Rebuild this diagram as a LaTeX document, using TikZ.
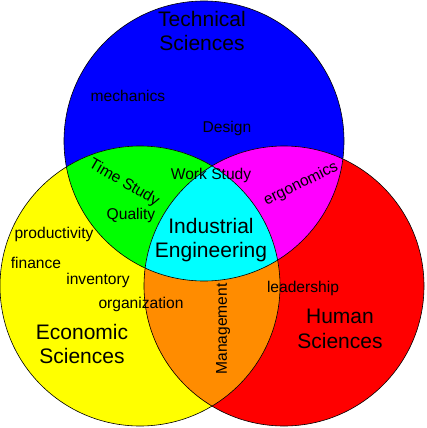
\documentclass[tikz,border=0pt]{standalone}
\usepackage{fontspec}
\setmainfont{Liberation Sans}
\usepackage{tikz}
\tikzset{
  field/.style     = {draw=black, line width=0.6pt},
  sciencelbl/.style = {font=\fontsize{21}{24.5}\selectfont, align=center},
  topiclbl/.style  = {font=\fontsize{15.6}{18}\selectfont},
}
\definecolor{techblue}{RGB}{0,0,255}
\definecolor{econyellow}{RGB}{255,255,0}
\definecolor{humanred}{RGB}{255,0,0}
\definecolor{workgreen}{RGB}{0,255,0}
\definecolor{ergomagenta}{RGB}{255,0,255}
\definecolor{mgmtorange}{RGB}{255,140,0}
\definecolor{iecyan}{RGB}{0,255,255}

\begin{document}
\begin{tikzpicture}[x=1pt, y=-1pt]
  \useasboundingbox (0,0) rectangle (426,428);
  \coordinate (tech)  at (204,141);
  \coordinate (econ)  at (140,286);
  \coordinate (human) at (284,286);
  \def\rr{140pt}

  % the three sciences
  \fill[techblue]   (tech)  circle (\rr);
  \fill[econyellow] (econ)  circle (\rr);
  \fill[humanred]   (human) circle (\rr);

  % overlaps
  \begin{scope}
    \clip (tech) circle (\rr);
    \fill[workgreen]   (econ)  circle (\rr);
    \fill[ergomagenta] (human) circle (\rr);
  \end{scope}
  \begin{scope}
    \clip (econ) circle (\rr);
    \fill[mgmtorange] (human) circle (\rr);
    \clip (human) circle (\rr);
    \fill[iecyan] (tech) circle (\rr);
  \end{scope}

  \draw[field] (tech) circle (\rr);
  \draw[field] (econ) circle (\rr);
  \draw[field] (human) circle (\rr);

  % labels
  \node[sciencelbl] (techname)  at (202,31)  {Technical\\Sciences};
  \node[sciencelbl] (econname)  at (82,344)  {Economic\\Sciences};
  \node[sciencelbl] (humanname) at (340,329) {Human\\Sciences};
  \node[sciencelbl] (iename)    at (211,240) {Industrial\\Engineering};

  \node[topiclbl] (mechanics)    at (128,96)  {mechanics};
  \node[topiclbl] (design)       at (227,128) {Design};
  \node[topiclbl, rotate=-30] (timestudy) at (124,183) {Time Study};
  \node[topiclbl] (workstudy)    at (211,175) {Work Study};
  \node[topiclbl, rotate=26] (ergonomics) at (301,184) {ergonomics};
  \node[topiclbl] (quality)      at (131,215) {Quality};
  \node[topiclbl] (productivity) at (54,234)  {productivity};
  \node[topiclbl] (finance)      at (36,263)  {finance};
  \node[topiclbl] (inventory)    at (98,280)  {inventory};
  \node[topiclbl] (organization) at (141,304) {organization};
  \node[topiclbl, rotate=90] (management) at (223,329) {Management};
  \node[topiclbl] (leadership)   at (303,288) {leadership};
\end{tikzpicture}
\end{document}
